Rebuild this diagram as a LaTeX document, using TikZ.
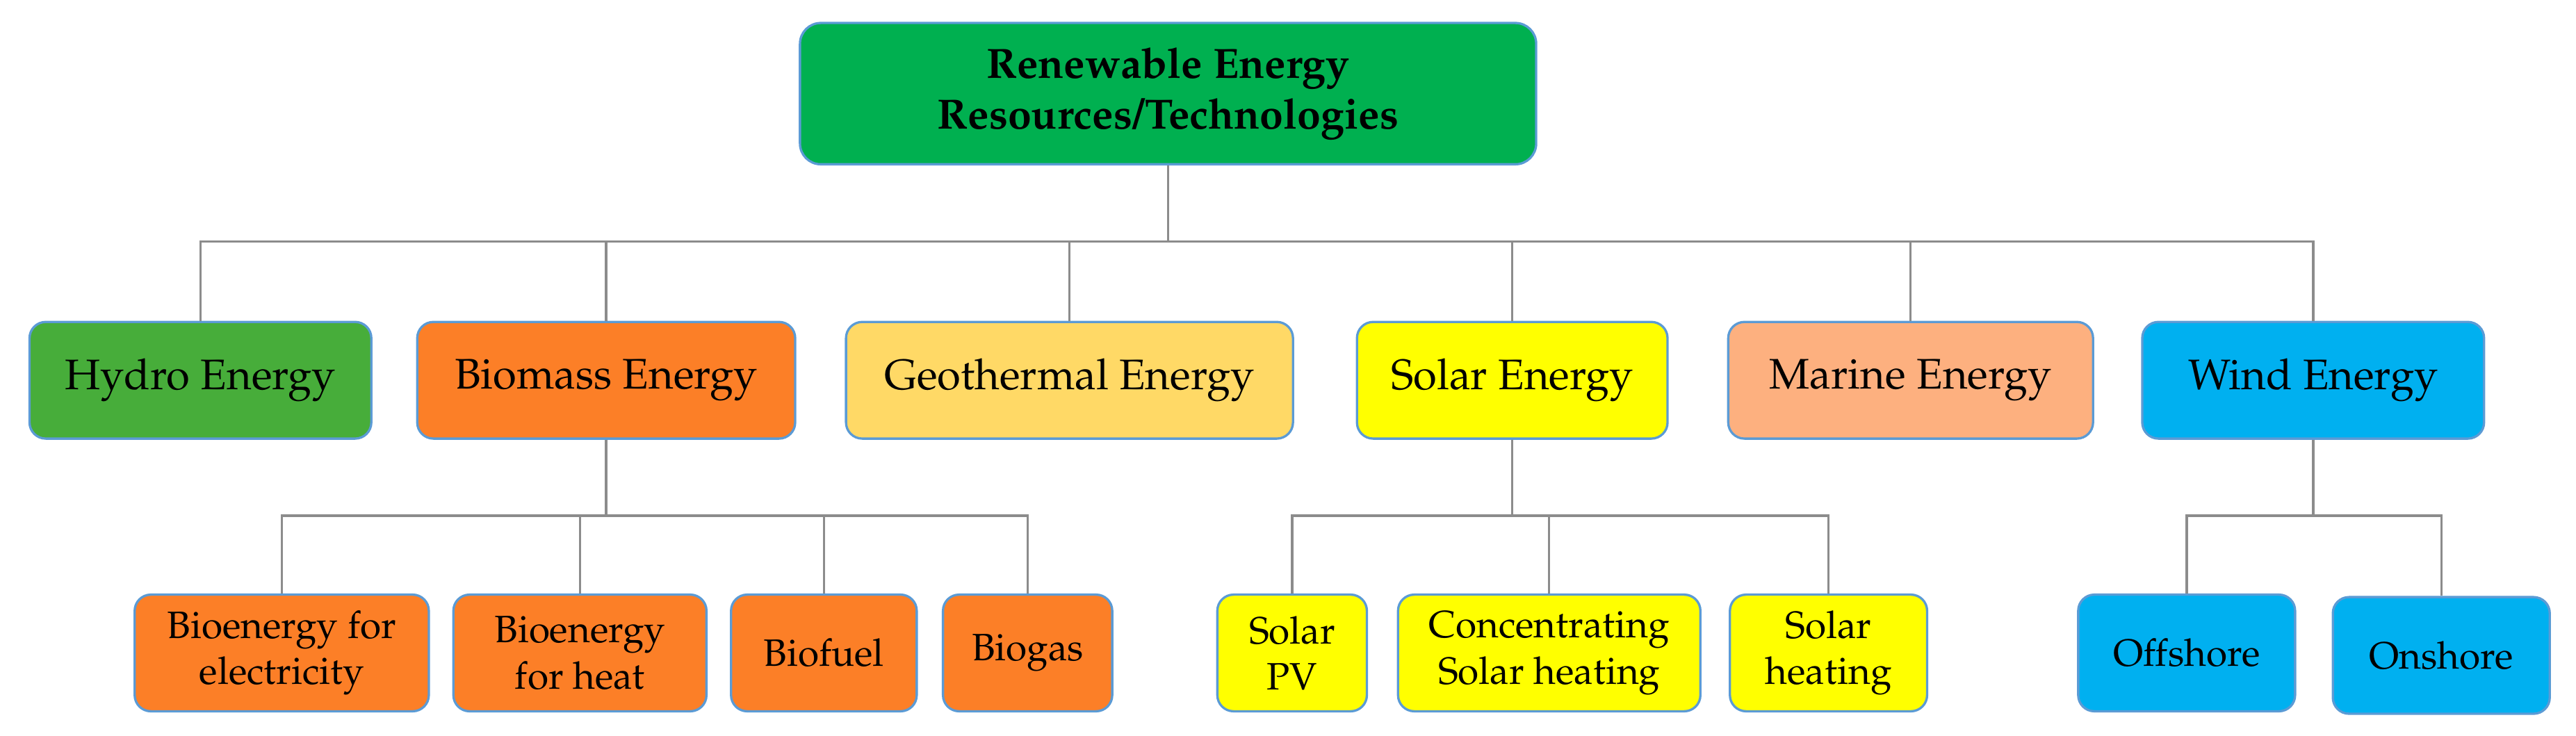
\documentclass[tikz,border=0pt]{standalone}
\usepackage[T1]{fontenc}
\usepackage{mathpazo}
\usepackage{xcolor}
\usepackage{tikz}
\usetikzlibrary{positioning, calc}
\definecolor{rootgreen}{HTML}{00B050}
\definecolor{hydrogreen}{HTML}{47AD3A}
\definecolor{bioorange}{HTML}{FC7F27}
\definecolor{geoyellow}{HTML}{FFD966}
\definecolor{solaryellow}{HTML}{FFFF00}
\definecolor{marinepeach}{HTML}{FDB07F}
\definecolor{windblue}{HTML}{00B0F0}
\definecolor{edgeblue}{HTML}{5B9BD5}
\definecolor{linkgray}{HTML}{8C8C8C}

\begin{document}
\begin{tikzpicture}[
  x=0.025cm, y=-0.025cm,
  box/.style={draw=edgeblue, line width=1pt, rounded corners=7pt,
    inner sep=2pt, align=center, minimum height=1.775cm},
  main/.style={box, font=\fontsize{18.5}{22}\selectfont},
  sub/.style={box, font=\fontsize{16.5}{20}\selectfont},
  link/.style={draw=linkgray, line width=1pt},
]
  \useasboundingbox (0,0) rectangle (1568,448);

  % Root
  \node[box, fill=rootgreen, minimum width=11.2cm, minimum height=2.15cm,
    rounded corners=9pt, font=\fontsize{18.3}{22}\selectfont\bfseries]
    (root) at (711,57) {Renewable Energy\\Resources/Technologies};

  % First level: energy resources
  \node[main, fill=hydrogreen,  minimum width=5.2cm]   (hydro)   at (122,231.5)  {Hydro Energy};
  \node[main, fill=bioorange,   minimum width=5.75cm]  (biomass) at (369,231.5)  {Biomass Energy};
  \node[main, fill=geoyellow,   minimum width=6.8cm]   (geo)     at (651,231.5)  {Geothermal Energy};
  \node[main, fill=solaryellow, minimum width=4.725cm] (solar)   at (920.5,231.5) {Solar Energy};
  \node[main, fill=marinepeach, minimum width=5.55cm]  (marine)  at (1163,231.5) {Marine Energy};
  \node[main, fill=windblue,    minimum width=5.2cm]   (wind)    at (1408,231.5) {Wind Energy};

  % Second level: biomass
  \node[sub, fill=bioorange, minimum width=4.475cm] (bioelec) at (171.5,397.5) {Bioenergy for\\electricity};
  \node[sub, fill=bioorange, minimum width=3.85cm]  (bioheat) at (353,397.5)   {Bioenergy\\for heat};
  \node[sub, fill=bioorange, minimum width=2.825cm] (biofuel) at (501.5,397.5) {Biofuel};
  \node[sub, fill=bioorange, minimum width=2.575cm] (biogas)  at (625.5,397.5) {Biogas};

  % Second level: solar
  \node[sub, fill=solaryellow, minimum width=2.275cm] (pv)      at (786.5,397.5) {Solar\\PV};
  \node[sub, fill=solaryellow, minimum width=4.6cm]   (csp)     at (943,397.5)   {Concentrating\\Solar heating};
  \node[sub, fill=solaryellow, minimum width=3.0cm]   (solheat) at (1113,397.5)  {Solar\\heating};

  % Second level: wind
  \node[sub, fill=windblue, minimum width=3.3cm] (offshore) at (1331,397.5) {Offshore};
  \node[sub, fill=windblue, minimum width=3.3cm] (onshore)  at (1486,399)   {Onshore};

  % Connectors
  \coordinate (bus1) at (0,147);
  \coordinate (bus2) at (0,314);
  \foreach \c in {hydro, biomass, geo, solar, marine, wind}
    \draw[link] (root.south) |- (bus1 -| \c) -- (\c.north);
  \foreach \c in {bioelec, bioheat, biofuel, biogas}
    \draw[link] (biomass.south) |- (bus2 -| \c) -- (\c.north);
  \foreach \c in {pv, csp, solheat}
    \draw[link] (solar.south) |- (bus2 -| \c) -- (\c.north);
  \foreach \c in {offshore, onshore}
    \draw[link] (wind.south) |- (bus2 -| \c) -- (\c.north);
\end{tikzpicture}
\end{document}
